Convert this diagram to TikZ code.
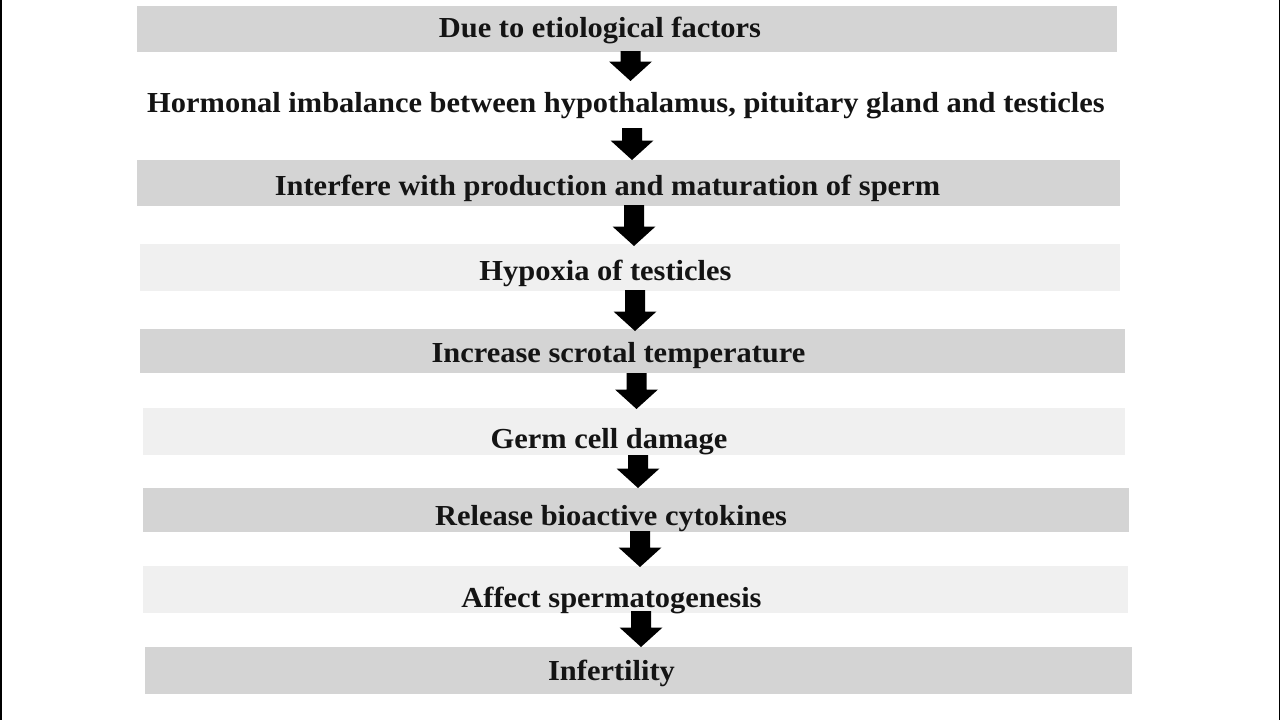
\documentclass[tikz,border=0pt]{standalone}
\usepackage{fontspec}
\setmainfont{Liberation Serif}[FakeStretch=1.05]
\usetikzlibrary{calc}
\definecolor{bandDark}{RGB}{212,212,212}
\definecolor{bandLight}{RGB}{240,240,240}
\definecolor{ink}{RGB}{20,20,20}
\begin{document}
\begin{tikzpicture}[x=1pt,y=-1pt,
  band/.style={rectangle, draw=none, inner sep=0pt, outer sep=0pt},
  darkband/.style={band, fill=bandDark},
  lightband/.style={band, fill=bandLight},
  noband/.style={band},
  txt/.style={anchor=base, inner sep=0pt, text=ink, font=\fontsize{29}{35}\selectfont\bfseries},
  blockarrow/.style={fill=black, draw=none, to path={
    let \p1=(\tikztostart), \p2=(\tikztotarget) in
    (\x1-10pt,\y1) -- (\x1+10pt,\y1) -- (\x1+10pt,\y2+19.5pt) -- (\x1+21.5pt,\y2+19.5pt)
    -- (\x1,\y2) -- (\x1-21.5pt,\y2+19.5pt) -- (\x1-10pt,\y2+19.5pt) -- cycle}}
]
\useasboundingbox (0,0) rectangle (1280,720);
\fill[white] (0,0) rectangle (1280,720);
% scan edges
\fill[black] (0,0) rectangle (1.5,720);
\fill[black] (1278.5,0) rectangle (1280,720);

% bands
\node[darkband,  minimum width=980pt, minimum height=46pt] (b1) at (627,29) {};
\node[noband,    minimum width=983pt, minimum height=46pt] (b2) at (628.5,105) {};
\node[darkband,  minimum width=983pt, minimum height=46pt] (b3) at (628.5,183) {};
\node[lightband, minimum width=980pt, minimum height=47pt] (b4) at (630,267.5) {};
\node[darkband,  minimum width=985pt, minimum height=44pt] (b5) at (632.5,351) {};
\node[lightband, minimum width=982pt, minimum height=47pt] (b6) at (634,431.5) {};
\node[darkband,  minimum width=986pt, minimum height=44pt] (b7) at (636,510) {};
\node[lightband, minimum width=985pt, minimum height=47pt] (b8) at (635.5,589.5) {};
\node[darkband,  minimum width=987pt, minimum height=47pt] (b9) at (638.5,670.5) {};

% texts
\node[txt] (t1) at (600,37) {Due to etiological factors};
\node[txt] (t2) at (626,112) {Hormonal imbalance between hypothalamus, pituitary gland and testicles};
\node[txt] (t3) at (607.5,195) {Interfere with production and maturation of sperm};
\node[txt] (t4) at (605.5,280) {Hypoxia of testicles};
\node[txt] (t5) at (618.5,362) {Increase scrotal temperature};
\node[txt] (t6) at (609,448) {Germ cell damage};
\node[txt] (t7) at (611,525) {Release bioactive cytokines};
\node[txt] (t8) at (611.5,607) {Affect spermatogenesis};
\node[txt] (t9) at (611.5,680) {Infertility};

% arrows
\path[blockarrow] ($(b1.south)+(3.5,-1)$) to ($(b2.north)+(3.5,-1)$);
\path[blockarrow] ($(b2.south)+(3.5,0)$) to ($(b3.north)+(3.5,0)$);
\path[blockarrow] ($(b3.south)+(5.5,-1)$) to ($(b4.north)+(5.5,2)$);
\path[blockarrow] ($(b4.south)+(5,-1)$) to ($(b5.north)+(5,2)$);
\path[blockarrow] ($(b5.south)+(4,0)$) to ($(b6.north)+(4,1)$);
\path[blockarrow] ($(b6.south)+(4,0)$) to ($(b7.north)+(4,0)$);
\path[blockarrow] ($(b7.south)+(4,-1)$) to ($(b8.north)+(4,1)$);
\path[blockarrow] ($(b8.south)+(5.5,-2)$) to ($(b9.north)+(5.5,0)$);
\end{tikzpicture}
\end{document}
